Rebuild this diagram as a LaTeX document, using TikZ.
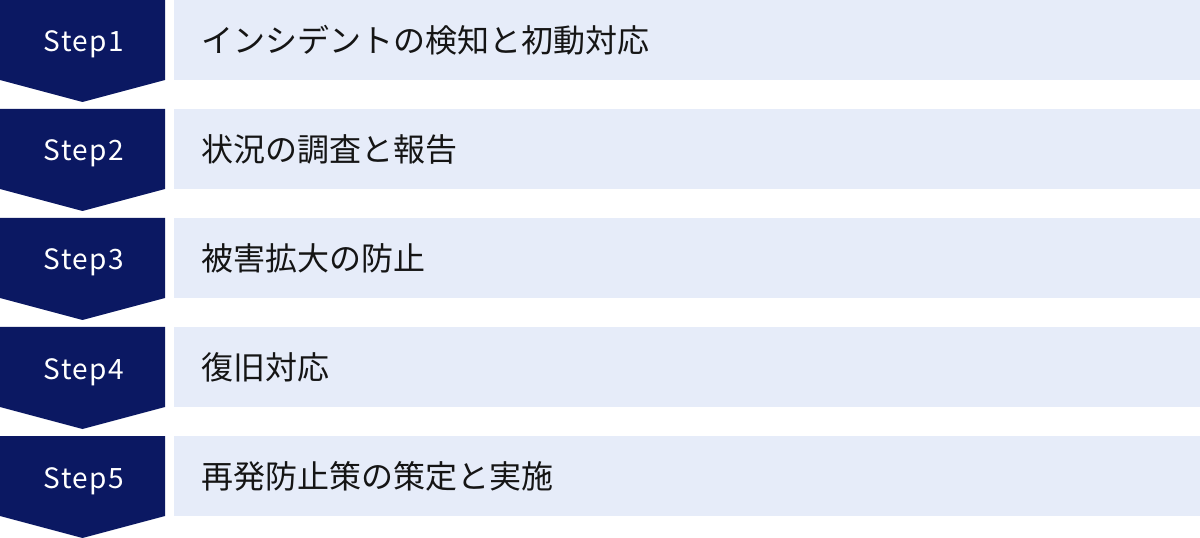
\documentclass[tikz,border=0pt]{standalone}
\usepackage{fontspec}
\setmainfont{Noto Sans}
\newfontfamily\cjk{Noto Sans CJK JP}
\definecolor{navy}{HTML}{0B1862}
\definecolor{lightbox}{HTML}{E6ECF9}
\definecolor{txt}{HTML}{151515}
\begin{document}
\begin{tikzpicture}[x=0.75pt,y=-0.75pt,
  steplabel/.style={text=white,font=\cjk\fontsize{21}{24}\selectfont\addfontfeatures{LetterSpace=5},anchor=base,inner sep=0pt},
  desclabel/.style={text=txt,font=\cjk\fontsize{24}{28}\selectfont,anchor=west,inner sep=0pt},
  descbox/.style={fill=lightbox,draw=none},
  arrowshape/.style={fill=navy,draw=none}]
\useasboundingbox (0,0) rectangle (1200,538);
\foreach \i/\t in {1/インシデントの検知と初動対応,2/状況の調査と報告,3/被害拡大の防止,4/復旧対応,5/再発防止策の策定と実施}{
  \pgfmathsetmacro{\yo}{109*(\i-1)}
  \fill[arrowshape] (0,\yo) -- (165,\yo) -- (165,\yo+80) -- (82.5,\yo+102) -- (0,\yo+80) -- cycle;
  \fill[descbox] (174,\yo) rectangle (1200,\yo+80);
  \node[steplabel] (s\i) at (84,\yo+52) {Step\i};
  \node[desclabel] (d\i) at (201,\yo+40) {\t};
}
\end{tikzpicture}
\end{document}
